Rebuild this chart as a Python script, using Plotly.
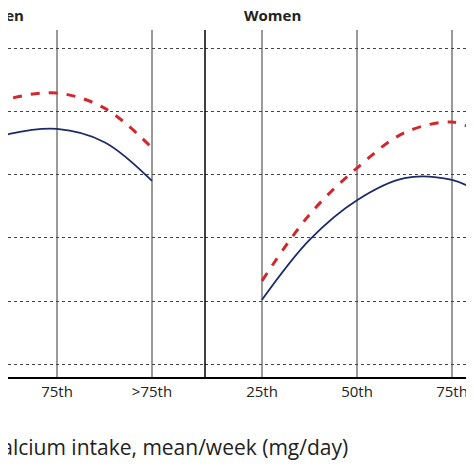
import plotly.graph_objects as go

cats = ["<25th", "25th", "50th", "75th", ">75th"]
men_x = [2, 2.5, 3, 3.5, 4]
men_solid = [3.40, 3.65, 3.73, 3.52, 2.905]
men_dash = [3.95, 4.21, 4.30, 4.06, 3.43]
women_x = [1, 1.5, 2, 2.5, 3, 3.25]
women_solid = [1.02, 1.97, 2.60, 2.95, 2.92, 2.76]
women_dash = [1.32, 2.37, 3.11, 3.67, 3.84, 3.71]

navy = "#1c2a6b"
red = "#d0282e"
fig = go.Figure()
fig.add_trace(go.Scatter(x=men_x, y=men_solid, mode="lines", line=dict(color=navy, width=1.8, shape="spline"), xaxis="x", yaxis="y"))
fig.add_trace(go.Scatter(x=men_x, y=men_dash, mode="lines", line=dict(color=red, width=3, dash="dash", shape="spline"), xaxis="x", yaxis="y"))
fig.add_trace(go.Scatter(x=women_x, y=women_solid, mode="lines", line=dict(color=navy, width=1.8, shape="spline"), xaxis="x2", yaxis="y2"))
fig.add_trace(go.Scatter(x=women_x, y=women_dash, mode="lines", line=dict(color=red, width=3, dash="dash", shape="spline"), xaxis="x2", yaxis="y2"))

off = 8
split = (205 - off) / 474
xcommon = dict(tickmode="array", tickvals=list(range(5)), ticktext=cats, showgrid=True,
               gridcolor="#9a9a9a", gridwidth=1.5, zeroline=False, showline=True,
               linecolor="black", linewidth=1.5, ticks="", tickfont=dict(size=15, color="#222"))
ycommon = dict(range=[-0.206, 5.30], tickvals=[0, 1, 2, 3, 4, 5], showticklabels=False,
               showgrid=True, griddash="dot", gridcolor="#444", gridwidth=1.2, zeroline=False,
               showline=False)
m0 = 3 - (57 - off) / 95
fig.update_layout(
    width=474, height=474, margin=dict(l=0, r=0, t=30 - off, b=474 - (377 - off)),
    plot_bgcolor="white", paper_bgcolor="white", showlegend=False,
    font=dict(family="Open Sans", color="#222"),
    xaxis=dict(domain=[0, split], range=[m0, m0 + (205 - off) / 95], **xcommon),
    xaxis2=dict(domain=[split, 1], range=[0.4, 0.4 + (474 - 205 + off) / 95], anchor="y2", **xcommon),
    yaxis=dict(domain=[0, 1], **ycommon),
    yaxis2=dict(domain=[0, 1], anchor="x2", **ycommon),
    shapes=[dict(type="line", xref="paper", yref="paper", x0=split, x1=split, y0=0, y1=1,
                 line=dict(color="black", width=1.5))],
    annotations=[
        dict(text="<b>Men</b>", xref="paper", yref="paper", x=(26 - off) / 474, y=1, yanchor="bottom",
             xanchor="right", yshift=3, showarrow=False, font=dict(size=15)),
        dict(text="<b>Women</b>", xref="paper", yref="paper", x=(272 - off) / 474, y=1, yanchor="bottom",
             xanchor="center", yshift=3, showarrow=False, font=dict(size=15)),
        dict(text="Calcium intake, mean/week (mg/day)", xref="paper", yref="paper", x=(-14 - off) / 474,
             y=0, yshift=-70, xanchor="left", yanchor="middle", showarrow=False, font=dict(size=21)),
    ],
)
fig.write_html("out.html")
